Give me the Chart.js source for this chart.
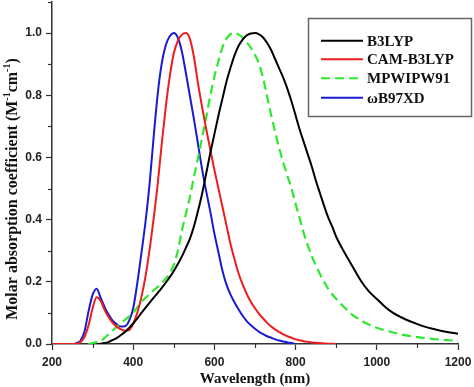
<!DOCTYPE html>
<html><head><meta charset="utf-8">
<script src="https://cdn.jsdelivr.net/npm/chart.js@4/dist/chart.umd.min.js"></script>
<style>html,body{margin:0;padding:0;background:#fff}canvas{display:block}</style>
</head><body>
<canvas id="c" width="474" height="387"></canvas>
<script>
const wavelengths = [200,210,220,230,240,250,260,270,280,290,300,310,320,330,340,350,360,370,380,390,400,410,420,430,440,450,460,470,480,490,500,510,520,530,540,550,560,570,580,590,600,610,620,630,640,650,660,670,680,690,700,710,720,730,740,750,760,770,780,790,800,810,820,830,840,850,860,870,880,890,900,920,940,960,980,1000,1020,1040,1060,1080,1100,1120,1140,1160,1180,1200];

const seriesNames = ['B3LYP','CAM-B3LYP','MPWIPW91','\u03c9B97XD'];

const b3lyp = [null,null,null,null,null,null,null,null,null,null,null,
  0,0.001,0.003,0.007,0.013,0.02,0.029,0.039,0.052,0.066,0.082,0.1,0.116,0.132,0.148,0.164,0.18,0.197,0.215,0.235,0.257,0.282,0.31,0.34,0.38,0.43,0.485,0.55,0.615,0.675,0.735,0.79,0.845,0.89,0.93,0.96,0.98,0.993,0.999,1.0,0.996,0.986,0.968,0.945,0.915,0.885,0.855,0.82,0.78,0.735,0.69,0.65,0.61,0.57,0.525,0.485,0.445,0.408,0.378,0.345,
  0.295,0.25,0.205,0.17,0.145,0.12,0.1,0.086,0.074,0.064,0.055,0.048,0.042,0.037,0.033];

const camB3lyp = [0,0,0,0,0,0,0,0.006,0.022,0.06,0.115,0.15,0.138,0.108,0.085,0.067,0.055,0.047,0.043,0.045,0.065,0.1,0.15,0.215,0.3,0.4,0.51,0.64,0.76,0.86,0.935,0.975,0.995,1.0,0.98,0.92,0.835,0.76,0.69,0.625,0.56,0.5,0.44,0.38,0.32,0.27,0.225,0.19,0.16,0.135,0.115,0.097,0.082,0.068,0.056,0.046,0.038,0.031,0.025,0.02,0.015,0.012,0.009,0.007,0.005,0.004,0.003,0.002,0.001,0.0005,0,
  null,null,null,null,null,null,null,null,null,null,null,null,null,null,null];

const mpwipw91 = [null,null,null,null,null,null,null,null,null,
  0,0.003,0.006,0.01,0.02,0.032,0.044,0.056,0.068,0.078,0.089,0.1,0.118,0.135,0.148,0.16,0.172,0.183,0.196,0.21,0.228,0.255,0.3,0.365,0.42,0.475,0.54,0.6,0.665,0.73,0.8,0.86,0.91,0.955,0.982,0.997,1.0,0.995,0.985,0.97,0.952,0.93,0.9,0.855,0.795,0.735,0.68,0.628,0.582,0.54,0.5,0.45,0.405,0.357,0.317,0.282,0.252,0.225,0.2,0.178,0.16,0.145,
  0.118,0.094,0.077,0.063,0.052,0.044,0.037,0.031,0.026,0.022,0.019,0.016,0.014,0.012,0.01];

const wb97xd = [0,0,0,0,0,0,0.003,0.01,0.04,0.105,0.158,0.178,0.148,0.118,0.093,0.074,0.063,0.056,0.057,0.075,0.115,0.195,0.29,0.39,0.51,0.66,0.8,0.9,0.96,0.99,1.0,0.985,0.94,0.87,0.795,0.72,0.64,0.56,0.49,0.425,0.355,0.295,0.235,0.19,0.158,0.133,0.11,0.09,0.073,0.06,0.049,0.039,0.032,0.025,0.02,0.015,0.011,0.008,0.005,0.003,0,
  null,null,null,null,null,null,null,null,null,null,
  null,null,null,null,null,null,null,null,null,null,null,null,null,null,null];

const xTickValues = [200,400,600,800,1000,1200];
const xMinorValues = [300,500,700,900,1100];
const yTickValues = [0,0.2,0.4,0.6,0.8,1.0];
const yMinorValues = [0.1,0.3,0.5,0.7,0.9,1.1];

function pts(arr){ return wavelengths.map((x,i)=>({x:x, y:arr[i]})); }

const extras = {
  id: 'extras',
  afterDraw(chart){
    const ctx = chart.ctx;
    const xs = chart.scales.x, ys = chart.scales.y;
    const ca = chart.chartArea;
    ctx.save();
    // minor ticks
    ctx.strokeStyle = '#333'; ctx.lineWidth = 1.2;
    xMinorValues.forEach(v=>{ const px = Math.round(xs.getPixelForValue(v))+0.5; ctx.beginPath(); ctx.moveTo(px, ca.bottom); ctx.lineTo(px, ca.bottom+4); ctx.stroke(); });
    yMinorValues.forEach(v=>{ const py = Math.round(ys.getPixelForValue(v))+0.5; ctx.beginPath(); ctx.moveTo(ca.left, py); ctx.lineTo(ca.left-4, py); ctx.stroke(); });
    // y title with superscripts
    ctx.save();
    ctx.translate(12, 189);
    ctx.rotate(-Math.PI/2);
    ctx.fillStyle = '#111';
    ctx.textBaseline = 'middle';
    const big = 'bold 16px "Liberation Serif", "Times New Roman", serif';
    const small = 'bold 10px "Liberation Serif", "Times New Roman", serif';
    const parts = [['Molar absorption coefficient (M',0],['-1',1],['cm',0],['-1',1],[')',0]];
    let total = 0;
    parts.forEach(p=>{ ctx.font = p[1]?small:big; total += ctx.measureText(p[0]).width; });
    let x = -total/2;
    parts.forEach(p=>{ ctx.font = p[1]?small:big; ctx.textAlign='left'; ctx.fillText(p[0], x, p[1]?-5:1); x += ctx.measureText(p[0]).width; });
    ctx.restore();
    // legend box
    const bx = 308, by = 18, bw = 164, bh = 99;
    ctx.fillStyle = '#fff';
    ctx.fillRect(bx, by, bw, bh);
    ctx.strokeStyle = '#666'; ctx.lineWidth = 1.5;
    ctx.strokeRect(bx+0.5, by+0.5, bw-1, bh-1);
    const rows = [40.7, 59.3, 78.3, 97.7];
    chart.data.datasets.forEach((ds,i)=>{
      const y = rows[i];
      ctx.strokeStyle = ds.borderColor; ctx.lineWidth = 2;
      ctx.setLineDash(ds.borderDash || []);
      ctx.beginPath(); ctx.moveTo(321, y); ctx.lineTo(363, y); ctx.stroke();
      ctx.setLineDash([]);
      ctx.fillStyle = '#111';
      ctx.font = 'bold 15px "Liberation Serif", "Times New Roman", serif';
      ctx.textAlign = 'left'; ctx.textBaseline = 'middle';
      ctx.fillText(ds.label, 367, y+1);
    });
    ctx.restore();
  }
};

new Chart(document.getElementById('c'), {
  type: 'line',
  data: {
    datasets: [
      {label: seriesNames[0], data: pts(b3lyp), borderColor: '#000000', borderWidth: 2},
      {label: seriesNames[1], data: pts(camB3lyp), borderColor: '#ee1c1c', borderWidth: 2},
      {label: seriesNames[2], data: pts(mpwipw91), borderColor: '#2ee82e', borderWidth: 2.2, borderDash: [9,5]},
      {label: seriesNames[3], data: pts(wb97xd), borderColor: '#1a1ad0', borderWidth: 2}
    ]
  },
  options: {
    responsive: false, animation: false, devicePixelRatio: 1,
    layout: {padding: {top: 2, right: 16, left: 0, bottom: 0}},
    elements: {point: {radius: 0}, line: {cubicInterpolationMode: 'monotone', fill: false}},
    plugins: {legend: {display: false}, tooltip: {enabled: false}},
    scales: {
      x: {
        type: 'linear', min: 200, max: 1200,
        afterBuildTicks: s => { s.ticks = xTickValues.map(v=>({value:v})); },
        afterFit: s => { s.height = 43; s.paddingLeft = 0; s.paddingRight = 0; },
        grid: {drawOnChartArea: false, tickLength: 6, tickColor: '#333', tickWidth: 1.2},
        border: {color: '#333', width: 1.5},
        ticks: {font: {family: '"Liberation Sans", Arial, sans-serif', weight: 'bold', size: 12}, color: '#222', padding: 5, maxRotation: 0, autoSkip: false, callback: v => String(v)},
        title: {display: true, text: 'Wavelength (nm)', color: '#111', font: {family: '"Liberation Serif", "Times New Roman", serif', weight: 'bold', size: 15}, padding: {top: 0, bottom: -1}}
      },
      y: {
        min: 0, max: 1.1,
        afterBuildTicks: s => { s.ticks = yTickValues.map(v=>({value:v})); },
        afterFit: s => { s.width = 52; s.paddingTop = 0; s.paddingBottom = 0; },
        grid: {drawOnChartArea: false, tickLength: 6, tickColor: '#333', tickWidth: 1.2},
        border: {color: '#333', width: 1.5},
        ticks: {font: {family: '"Liberation Sans", Arial, sans-serif', weight: 'bold', size: 12}, color: '#222', padding: 4, callback: v => Number(v).toFixed(1)},
        title: {display: false}
      }
    }
  },
  plugins: [extras]
});
</script>
</body></html>
